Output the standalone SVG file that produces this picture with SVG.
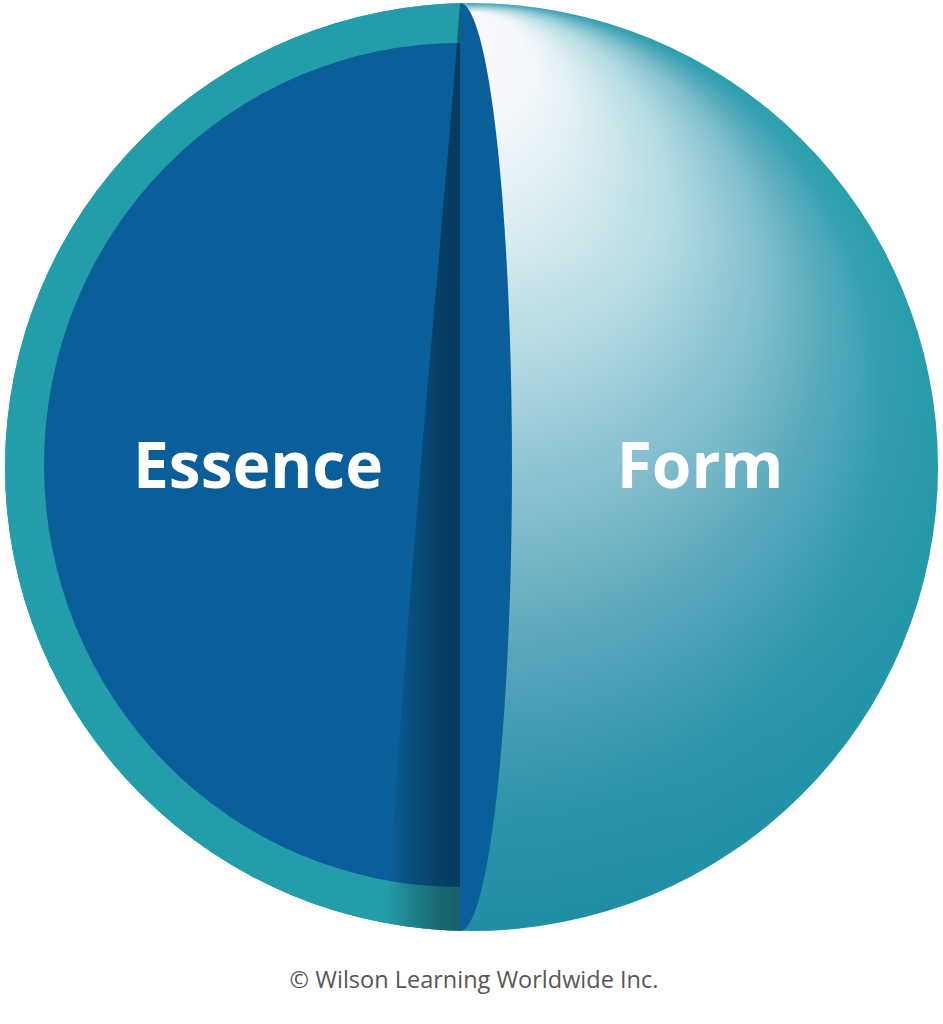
<svg xmlns="http://www.w3.org/2000/svg" width="943" height="1024" viewBox="0 0 943 1024">
  <defs>
    <radialGradient id="formGrad" gradientUnits="userSpaceOnUse" cx="471.5" cy="467" r="466" fx="476" fy="14">
      <stop offset="0" stop-color="#FAFAFE"/>
      <stop offset="0.1" stop-color="#F6F8FC"/>
      <stop offset="0.2" stop-color="#E3F0F4"/>
      <stop offset="0.42" stop-color="#B2DBE2"/>
      <stop offset="0.62" stop-color="#82C0CD"/>
      <stop offset="0.74" stop-color="#5EAFC0"/>
      <stop offset="0.88" stop-color="#38A1B2"/>
      <stop offset="1" stop-color="#27A0AC"/>
    </radialGradient>
    <linearGradient id="formShade" gradientUnits="userSpaceOnUse" x1="0" y1="250" x2="0" y2="931">
      <stop offset="0" stop-color="#0E6A98" stop-opacity="0"/>
      <stop offset="1" stop-color="#0E6A98" stop-opacity="0.32"/>
    </linearGradient>
    <linearGradient id="shadowGrad" x1="0" y1="0" x2="1" y2="0">
      <stop offset="0" stop-color="#000" stop-opacity="0"/>
      <stop offset="0.35" stop-color="#000" stop-opacity="0.18"/>
      <stop offset="0.7" stop-color="#000" stop-opacity="0.33"/>
      <stop offset="1" stop-color="#000" stop-opacity="0.38"/>
    </linearGradient>
    <clipPath id="leftClip">
      <path d="M460,3 A466.5,464 0 0 0 460,931 Z"/>
    </clipPath>
    <clipPath id="circleClip">
      <ellipse cx="471.5" cy="467" rx="466.5" ry="464"/>
    </clipPath>
    <style>
      .label { font-family: "Open Sans", "Liberation Sans", sans-serif; font-weight: 700; font-size: 64px; fill: #FFFFFF; text-anchor: middle; }
      .credit { font-family: "Open Sans", "Liberation Sans", sans-serif; font-size: 23.5px; fill: #5A5656; text-anchor: middle; }
    </style>
  </defs>

  <g id="form">
    <ellipse cx="471.5" cy="467" rx="466.5" ry="464" fill="url(#formGrad)"/>
    <ellipse cx="471.5" cy="467" rx="466.5" ry="464" fill="url(#formShade)"/>
    <text class="label" x="700" y="488">Form</text>
  </g>

  <g id="essence" clip-path="url(#circleClip)">
    <g clip-path="url(#leftClip)">
      <rect x="0" y="0" width="460" height="940" fill="#249DAA"/>
      <path d="M460,43 A416,422 0 0 0 460,887 Z" fill="#0A5F9A"/>
      <path d="M460,3 C446,200 412,520 386,935 L460,935 Z" fill="url(#shadowGrad)"/>
    </g>
    <text class="label" x="258" y="488">Essence</text>
  </g>

  <g id="divider">
    <path d="M460,3 A52,464 0 0 1 460,931 Z" fill="#0A5F9A"/>
  </g>

  <g id="connectors"></g>

  <text class="credit" x="474" y="988">© Wilson Learning Worldwide Inc.</text>
</svg>
